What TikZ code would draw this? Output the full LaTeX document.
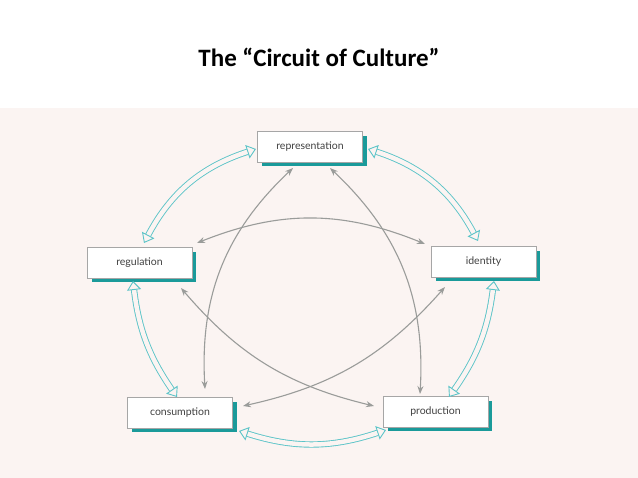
\documentclass[tikz,border=0pt]{standalone}
\usepackage{fontspec}
\setmainfont{Lato}
\newfontfamily\titlefont{Carlito}
\usetikzlibrary{arrows.meta}
\definecolor{bgpink}{HTML}{FBF4F2}
\definecolor{tealc}{HTML}{1A9A9A}
\definecolor{tealL}{HTML}{5CC4C8}
\definecolor{greyc}{HTML}{9A9C9A}
\begin{document}
\begin{tikzpicture}[x=1pt,y=-1pt,
  box/.style={draw=gray!70,fill=white,minimum width=105pt,minimum height=31pt,inner sep=0pt,font=\fontsize{10.5}{12}\selectfont,text=black!75},
  garrow/.style={draw=greyc,line width=1.1pt,{Stealth[length=8pt,width=6pt]}-{Stealth[length=8pt,width=6pt]}},
  tarrow/.style={draw=tealL,line width=0.9pt,double=bgpink,double distance=4.5pt,
     {Triangle[open,length=9pt,width=14pt,fill=bgpink]}-{Triangle[open,length=9pt,width=14pt,fill=bgpink]}}]
\useasboundingbox (0,0) rectangle (638,478);
\fill[white] (0,0) rectangle (638,108);
\fill[bgpink] (0,108) rectangle (638,478);
\node[font=\titlefont\bfseries\fontsize{25}{28}\selectfont] (title) at (319,57) {The “Circuit of Culture”};
% shadows
\fill[tealc] (262,136) rectangle (367,166);
\fill[tealc] (92,252) rectangle (196,282);
\fill[tealc] (436,251) rectangle (540,281);
\fill[tealc] (132,402) rectangle (237,432);
\fill[tealc] (388,401) rectangle (492,431);
\node[box] (rep) at (310,146.5) {representation};
\node[box] (reg) at (139.5,262.5) {regulation};
\node[box] (ide) at (483.5,261.5) {identity};
\node[box] (con) at (180,412.5) {consumption};
\node[box] (pro) at (435.5,412) {production};
% coordinates
\coordinate (r1) at (293,168);
\coordinate (c1) at (205,389);
\coordinate (r2) at (330,168);
\coordinate (p1) at (420,394);
\coordinate (g1) at (197,243);
\coordinate (i1) at (425,244);
\coordinate (g2) at (181,288);
\coordinate (p2) at (374,406);
\coordinate (i2) at (445,287);
\coordinate (c2) at (243,406);
\draw[garrow] (r1) to[bend right=25] (c1);
\draw[garrow] (r2) to[bend left=25] (p1);
\draw[garrow] (g1) to[bend left=22] (i1);
\draw[garrow] (g2) to[bend right=18] (p2);
\draw[garrow] (i2) to[bend left=18] (c2);
% teal
\coordinate (t1) at (256,149);
\coordinate (t2) at (144,243);
\coordinate (t3) at (368,149);
\coordinate (t4) at (478,241);
\coordinate (t5) at (133,281);
\coordinate (t6) at (177,397);
\coordinate (t7) at (494,281);
\coordinate (t8) at (449,397);
\coordinate (t9) at (239,431);
\coordinate (t10) at (386,430);
\draw[tarrow] (t1) to[bend right=22] (t2);
\draw[tarrow] (t3) to[bend left=22] (t4);
\draw[tarrow] (t5) to[bend right=14] (t6);
\draw[tarrow] (t7) to[bend left=14] (t8);
\draw[tarrow] (t9) to[bend right=18] (t10);
\end{tikzpicture}
\end{document}
